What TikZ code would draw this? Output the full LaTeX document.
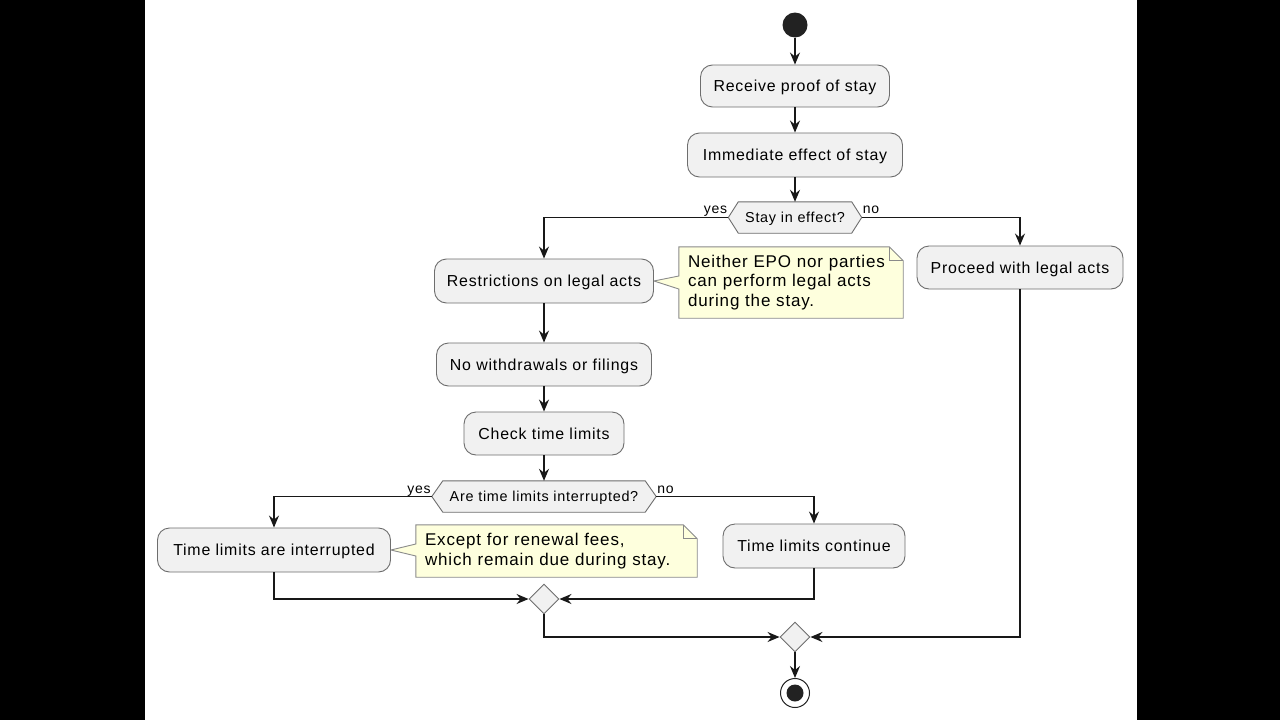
\documentclass[tikz,border=0pt]{standalone}
\usepackage{fontspec}
\usetikzlibrary{arrows.meta,shapes.geometric,backgrounds,calc}
\newfontfamily\uifont[LetterSpace=5]{Liberation Sans}
\definecolor{boxfill}{HTML}{F1F1F1}
\definecolor{boxline}{HTML}{6E6E6E}
\definecolor{notefill}{HTML}{FEFFDD}
\definecolor{noteline}{HTML}{8A8A8A}
\definecolor{ink}{HTML}{181818}
\definecolor{dot}{HTML}{222222}
\begin{document}
\begin{tikzpicture}[x=1pt,y=-1pt,
  act/.style={draw=boxline, fill=boxfill, rounded corners=12pt, line width=0.9pt, inner sep=0pt, text height=11.3pt, text depth=0pt, font=\uifont\fontsize{15.9}{18}\selectfont},
  dec/.style={inner sep=0pt, text height=10.3pt, text depth=0pt, font=\uifont\fontsize{14.4}{17}\selectfont},
  decshape/.style={draw=boxline, fill=boxfill, line width=0.9pt},
  notetext/.style={inner xsep=9pt, inner ysep=0pt, align=left, font=\uifont\fontsize{17}{19.5}\selectfont},
  noteshape/.style={draw=noteline, fill=notefill, line width=0.9pt, line join=miter},
  lbl/.style={inner sep=0pt, font=\uifont\fontsize{14}{16}\selectfont},
  merge/.style={diamond, draw=boxline, fill=boxfill, line width=0.9pt, minimum width=30pt, minimum height=30pt, inner sep=0pt},
  conn/.style={draw=ink, line width=1.4pt, -{Stealth[length=12pt,width=10pt,inset=4pt]}},
  wire/.style={draw=ink, line width=1.4pt}
]
\useasboundingbox (0,0) rectangle (1280,720);
\begin{scope}[on background layer]
  \fill[black] (0,0) rectangle (1280,720);
  \fill[white] (145,0) rectangle (1137,720);
\end{scope}

% nodes
\node[circle, fill=dot, minimum size=25pt, inner sep=0pt] (start) at (795,25) {};
\node[act, minimum width=189pt, minimum height=42pt] (recv) at (795,86) {Receive proof of stay};
\node[act, minimum width=215pt, minimum height=44pt] (imm) at (795,155) {Immediate effect of stay};
\node[dec, minimum width=133pt, minimum height=31pt] (d1) at (795,217.5) {Stay in effect?};
\node[act, minimum width=219pt, minimum height=44pt] (restr) at (544,281) {Restrictions on legal acts};
\node[act, minimum width=206pt, minimum height=43pt] (proceed) at (1020,267.5) {Proceed with legal acts};
\node[notetext, text width=206pt, minimum height=71pt] (n1) at (791,282.5) {Neither EPO nor parties\\can perform legal acts\\during the stay.};
\node[act, minimum width=215pt, minimum height=43pt] (nowd) at (544,364.5) {No withdrawals or filings};
\node[act, minimum width=160pt, minimum height=43pt] (check) at (544,433.5) {Check time limits};
\node[dec, minimum width=224pt, minimum height=31pt] (d2) at (544,496.5) {Are time limits interrupted?};
\node[act, minimum width=233pt, minimum height=44pt] (tli) at (274,550) {Time limits are interrupted};
\node[act, minimum width=182pt, minimum height=44pt] (tlc) at (814,546) {Time limits continue};
\node[notetext, text width=263pt, minimum height=52pt] (n2) at (556.5,551) {Except for renewal fees,\\which remain due during stay.};
\node[merge] (m1) at (544,599) {};
\node[merge] (m2) at (795,637) {};
\node[circle, draw=dot, fill=white, line width=1pt, minimum size=29pt, inner sep=0pt] (end) at (795,693) {};
\node[circle, fill=dot, minimum size=17pt, inner sep=0pt] (endin) at (end) {};

% branch labels
\node[lbl, anchor=base east] (y1) at ($(d1.west)+(-1,-4)$) {yes};
\node[lbl, anchor=base west] (no1) at ($(d1.east)+(1,-4)$) {no};
\node[lbl, anchor=base east] (y2) at ($(d2.west)+(-1,-3.5)$) {yes};
\node[lbl, anchor=base west] (no2) at ($(d2.east)+(1,-3.5)$) {no};

% shapes behind text
\begin{scope}[on background layer]
  \path[decshape] (d1.west) -- ($(d1.north west)+(10,0)$) -- ($(d1.north east)+(-10,0)$) -- (d1.east) -- ($(d1.south east)+(-10,0)$) -- ($(d1.south west)+(10,0)$) -- cycle;
  \path[decshape] (d2.west) -- ($(d2.north west)+(11,0)$) -- ($(d2.north east)+(-11,0)$) -- (d2.east) -- ($(d2.south east)+(-11,0)$) -- ($(d2.south west)+(11,0)$) -- cycle;
  \path[noteshape] (n1.north west) -- ($(n1.north east)+(-14,0)$) -- ($(n1.north east)+(0,14)$) -- (n1.south east) -- (n1.south west) -- ($(n1.west)+(0,6.5)$) -- (restr.east) -- ($(n1.west)+(0,-6.5)$) -- cycle;
  \path[noteshape, fill=none] ($(n1.north east)+(-14,0)$) -- ($(n1.north east)+(-14,14)$) -- ($(n1.north east)+(0,14)$);
  \path[noteshape] (n2.north west) -- ($(n2.north east)+(-14,0)$) -- ($(n2.north east)+(0,14)$) -- (n2.south east) -- (n2.south west) -- ($(n2.west)+(0,5)$) -- (tli.east) -- ($(n2.west)+(0,-7)$) -- cycle;
  \path[noteshape, fill=none] ($(n2.north east)+(-14,0)$) -- ($(n2.north east)+(-14,14)$) -- ($(n2.north east)+(0,14)$);
\end{scope}

% connectors
\draw[conn] (start) -- (recv);
\draw[conn] (recv) -- (imm);
\draw[conn] (imm) -- (d1.north);
\draw[conn] (d1.west) -| (restr.north);
\draw[conn] (d1.east) -| (proceed.north);
\draw[conn] (restr) -- (nowd);
\draw[conn] (nowd) -- (check);
\draw[conn] (check) -- (d2.north);
\draw[conn] (d2.west) -| (tli.north);
\draw[conn] (d2.east) -| (tlc.north);
\draw[conn] (tli.south) |- (m1.west);
\draw[conn] (tlc.south) |- (m1.east);
\draw[conn] (m1.south) |- (m2.west);
\draw[conn] (proceed.south) |- (m2.east);
\draw[conn] (m2) -- (end);
\end{tikzpicture}
\end{document}
